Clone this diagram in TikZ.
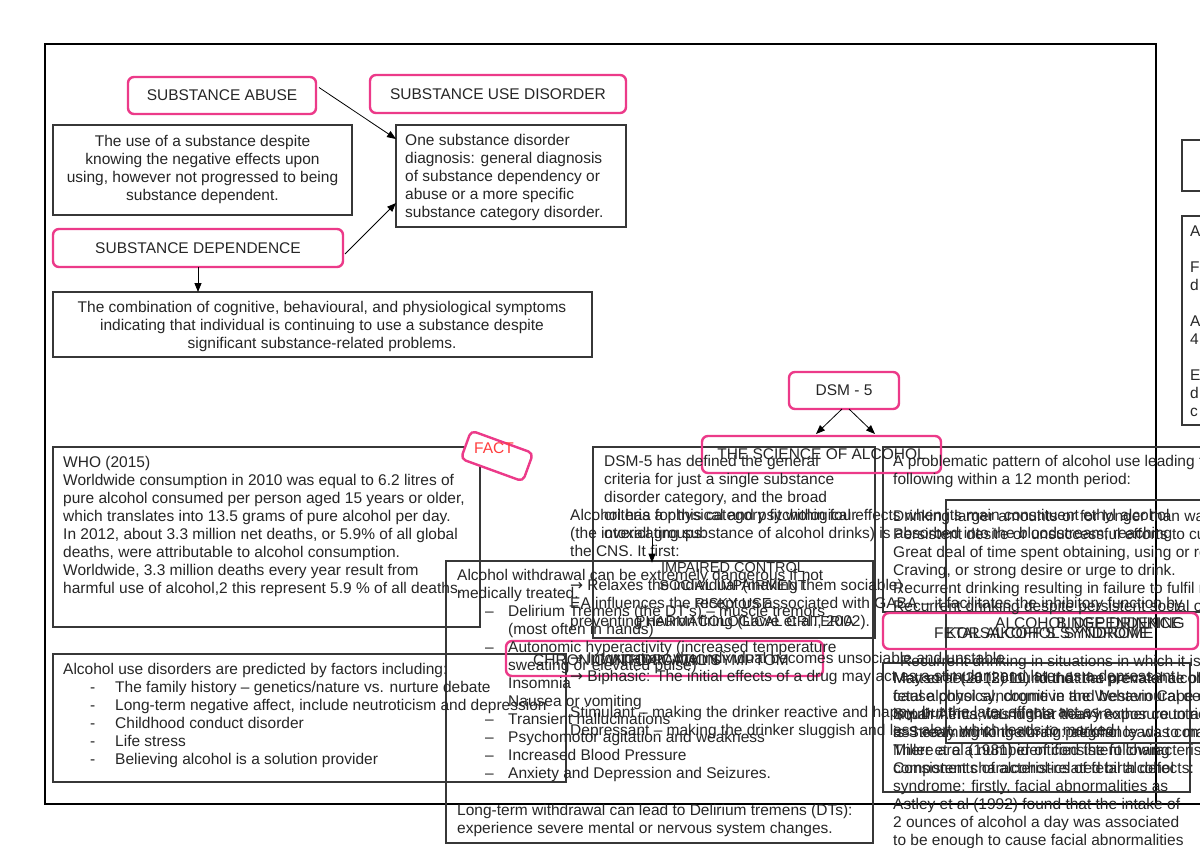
\documentclass[tikz,border=0pt]{standalone}
\usepackage{fontspec}
\setmainfont{Liberation Sans}
\newfontfamily\dvfont{DejaVu Sans}
\usetikzlibrary{arrows.meta,calc}
\definecolor{pinkc}{RGB}{236,58,137}
\definecolor{txtc}{RGB}{38,38,38}
\definecolor{boxc}{RGB}{55,55,55}
\definecolor{factc}{RGB}{255,60,60}
\newcommand\tf{\fontsize{15.5}{18}\selectfont}
\newcommand\tfs{\fontsize{14.5}{18}\selectfont}
\newcommand\rarr{{\dvfont →}}
\tikzset{
  bx/.style={draw=boxc, line width=1.1pt, inner sep=0pt, outer sep=0pt, anchor=north west},
  pk/.style={draw=pinkc, line width=2.4pt, rounded corners=6pt, inner sep=0pt, outer sep=0pt, anchor=north west},
  tx/.style={anchor=north west, inner sep=0pt, align=left, font=\tf, text=txtc, yshift=12.6pt},
  tc/.style={anchor=north, inner sep=0pt, align=center, font=\tf, text=txtc, yshift=12.6pt},
  lbl/.style={inner sep=0pt, font=\tf, text=txtc},
  grp/.style={inner sep=0pt, font=\tfs, text=txtc},
  arr/.style={-{Triangle[length=9pt,width=7pt]}, line width=0.8pt, black},
}
\begin{document}
\begin{tikzpicture}[x=1pt,y=-1pt]
\useasboundingbox (0,0) rectangle (1200,848);
\clip (0,0) rectangle (1200,848);
\fill[white] (0,0) rectangle (1200,848);

% outer frame
\draw[line width=2pt, black] (44.5,44.5) rectangle (1156,803.5);
\draw[line width=2pt, black] (1156,803.5) -- (1200,803.5);

% plain boxes
\node[bx, minimum width=299pt, minimum height=90pt]  (b1)  at (53,125) {};
\node[bx, minimum width=230pt, minimum height=102pt] (b2)  at (396,125) {};
\node[bx, minimum width=539pt, minimum height=65pt]  (b3)  at (53,292) {};
\node[bx, minimum width=427pt, minimum height=180pt] (b4)  at (53,447) {};
\node[bx, minimum width=513pt, minimum height=128pt] (b5)  at (53,654) {};
\node[bx, minimum width=282pt, minimum height=191pt] (b6)  at (593,447) {};
\node[bx, minimum width=427pt, minimum height=282pt] (b7)  at (446,561) {};
\node[bx, minimum width=330pt, minimum height=165pt] (b8)  at (883,447) {};
\node[bx, minimum width=270pt, minimum height=243pt] (b9)  at (946,500) {};
\node[bx, minimum width=307pt, minimum height=129pt] (b10) at (883,663) {};
\node[bx, minimum width=40pt,  minimum height=51pt]  (b11) at (1182,140) {};
\node[bx, minimum width=40pt,  minimum height=209pt] (b12) at (1182,216) {};

% pink label boxes
\node[pk, minimum width=188pt, minimum height=37pt] (sa)   at (128,77) {};
\node[pk, minimum width=256pt, minimum height=38pt] (sud)  at (370,75) {};
\node[pk, minimum width=290pt, minimum height=38pt] (sdep) at (53,229) {};
\node[pk, minimum width=110pt, minimum height=37pt] (dsm)  at (789,372) {};
\node[pk, minimum width=239pt, minimum height=37pt] (sci)  at (702,436) {};
\node[pk, minimum width=317pt, minimum height=35pt] (chr)  at (506,641) {};
\node[pk, minimum width=315pt, minimum height=36pt] (fas)  at (883,613) {};
\node[draw=pinkc, fill=white, line width=2.4pt, rounded corners=5pt, inner sep=0pt,
      minimum width=66pt, minimum height=30pt, rotate=-20] (factbox) at (497,456) {};

% labels
\node[lbl] (lsa)   at (sa.center)   {SUBSTANCE ABUSE};
\node[lbl] (lsud)  at (sud.center)  {SUBSTANCE USE DISORDER};
\node[lbl] (lsdep) at (sdep.center) {SUBSTANCE DEPENDENCE};
\node[lbl] (ldsm)  at (dsm.center)  {DSM - 5};
\node[lbl] (lsci)  at (sci.center)  {THE SCIENCE OF ALCOHOL};
\node[inner sep=0pt, font=\tf, text=factc] (lfact) at (494,448) {FACT};
\node[lbl, anchor=base west] (lchr1) at (533,665) {CHRONIC INTOXICATION};
\node[lbl, anchor=base east] (lchr2) at (789,665) {WITHDRAWAL SYMPTOM};
\node[lbl, anchor=base west] (lfas1) at (995,628) {ALCOHOL DEPENDENCE};
\node[lbl, anchor=base east] (lfas2) at (1185,628) {BINGE DRINKING};
\node[lbl, anchor=base west] (lfas3) at (934,638) {FETAL ALCOHOL SYNDROME};
\node[lbl, anchor=base west] (lfas4) at (946,638) {KORSAKOFF'S SYNDROME};

% DSM groups
\node[grp] (ic) at (733,568) {IMPAIRED CONTROL};
\node[grp] (si) at (733,586) {SOCIAL IMPAIRMENT};
\node[grp] (ru) at (733,604) {RISKY USE};
\node[grp] (pc) at (745,622) {PHARMACOLOGICAL CRITERIA};

% texts
\node[tc] (t1) at (202.5,146) {\strut The use of a substance despite\\knowing the negative effects upon\\using, however not progressed to being\\substance dependent.};
\node[tx] (t2) at (405,145) {\strut One substance disorder\\diagnosis: general diagnosis\\of substance dependency or\\abuse or a more specific\\substance category disorder.};
\node[tc] (t3) at (322,312) {\strut The combination of cognitive, behavioural, and physiological symptoms\\indicating that individual is continuing to use a substance despite\\significant substance-related problems.};
\node[tx] (t4) at (63,467) {\strut WHO (2015)\\Worldwide consumption in 2010 was equal to 6.2 litres of\\pure alcohol consumed per person aged 15 years or older,\\which translates into 13.5 grams of pure alcohol per day.\\In 2012, about 3.3 million net deaths, or 5.9\% of all global\\deaths, were attributable to alcohol consumption.\\Worldwide, 3.3 million deaths every year result from\\harmful use of alcohol,2 this represent 5.9 \% of all deaths.};
\node[tx] (t5) at (63,674) {\strut Alcohol use disorders are predicted by factors including:};
\node[tx] (t5d) at (90,692) {\strut -\\-\\-\\-\\-};
\node[tx] (t5l) at (115,692) {\strut The family history – genetics/nature vs. nurture debate\\Long-term negative affect, include neutroticism and depression\\Childhood conduct disorder\\Life stress\\Believing alcohol is a solution provider};
\node[tx] (t6) at (604,466) {\strut DSM-5 has defined the general\\criteria for just a single substance\\disorder category, and the broad\\criteria for this category fit within four\\overall groups:};
\node[tx] (t7) at (570,520) {\strut Alcohol has a physical and psychological effects when its main constituent ethyl alcohol\\(the intoxicating substance of alcohol drinks) is absorbed into the bloodstream, reaching\\the CNS. It first:};
\node[tx] (t8) at (570,590) {\strut\rarr{} Relaxes the individual (making them sociable)\\EA influences the receptors associated with GABA – it facilitates the inhibitory function by\\preventing neuron firing (Lawe et al., 2002).};
\node[tx] (t9) at (570,663) {\strut\rarr{} Intoxication: the individual becomes unsociable and unstable\\\rarr{} Biphasic: The initial effects of a drug may act as a stimulant and later as a depressant};
\node[tx] (t10) at (570,717) {\strut Stimulant – making the drinker reactive and happy, but the later effects act as a\\Depressant – making the drinker sluggish and less alert, which leads to marked};
\node[tx] (t11) at (457,580) {\strut Alcohol withdrawal can be extremely dangerous if not\\medically treated.};
\foreach \yy in {616,652,724,742,760,778} \node[tx] (dash\yy) at (485,\yy) {\strut –};
\node[tx] (t11l) at (508,616) {\strut Delirium Tremens (the DT's) – muscle tremors\\(most often in hands)\\Autonomic hyperactivity (increased temperature\\sweating or elevated pulse)\\Insomnia\\Nausea or vomiting\\Transient hallucinations\\Psychomotor agitation and weakness\\Increased Blood Pressure\\Anxiety and Depression and Seizures.};
\node[tx] (t12) at (457,815) {\strut Long-term withdrawal can lead to Delirium tremens (DTs):\\experience severe mental or nervous system changes.};
\node[tx] (t13) at (893,466) {\strut A problematic pattern of alcohol use leading to clinically significant impairment or distress\\following within a 12 month period:};
\node[tx] (t14) at (893,521) {\strut Drinking larger amounts or for longer than was intended.\\Persistent desire or unsuccessful efforts to cut down or control drinking.\\Great deal of time spent obtaining, using or recovering from alcohol.\\Craving, or strong desire or urge to drink.\\Recurrent drinking resulting in failure to fulfil major role obligations.\\Recurrent drinking despite persistent social or interpersonal problems.};
\node[tx] (t15) at (900,666) {\strut Recurrent drinking in situations in which it is physically hazardous.};
\node[tx] (t16) at (893,683) {\strut May et al (2013) found that the prevalence of\\fetal alcohol syndrome in the Western Cape of\\South Africa was higher than in other countries\\as heavy drinking during pregnancy was common.\\There are a number of consistent characteristics\\Consistent characteristics of fetal alcohol\\syndrome: firstly, facial abnormalities as\\Astley et al (1992) found that the intake of\\2 ounces of alcohol a day was associated\\to be enough to cause facial abnormalities};
\node[tx] (t17) at (893,683) {\strut Mattson et al (2011) found that prenatal alcohol exposure knowledge of\\cause physical, cognitive and behavioural deficits and\\impairments; found that heavy exposure to alcohol\\is Streaming to the brain: alcohol leads to marked\\Miller et al (1981) identified the following\\components of alcohol-related birth defects: significant d};
\node[tx] (t18) at (1190,236) {\strut A\\\strut\\\strut F\\\strut d\\\strut\\\strut A\\\strut 4\\\strut\\\strut E\\\strut d\\\strut c};

% connectors
\draw[arr] ($(sa.east)+(3,-8)$) -- ($(b2.north west)+(0,14)$);
\draw[arr] ($(sdep.east)+(2,6)$) -- ($(b2.south west)+(0,-24)$);
\draw[arr] (sdep.south) -- (sdep.south |- b3.north);
\draw[arr] ($(dsm.south)+(-2,0)$) -- ($(sci.north)+(-5.5,-2)$);
\draw[arr] ($(dsm.south)+(5,0)$) -- ($(sci.north)+(53.5,-2)$);
\coordinate (g1) at (652,537);
\draw[arr] (g1) -- (g1 |- ic.north);
\end{tikzpicture}
\end{document}
